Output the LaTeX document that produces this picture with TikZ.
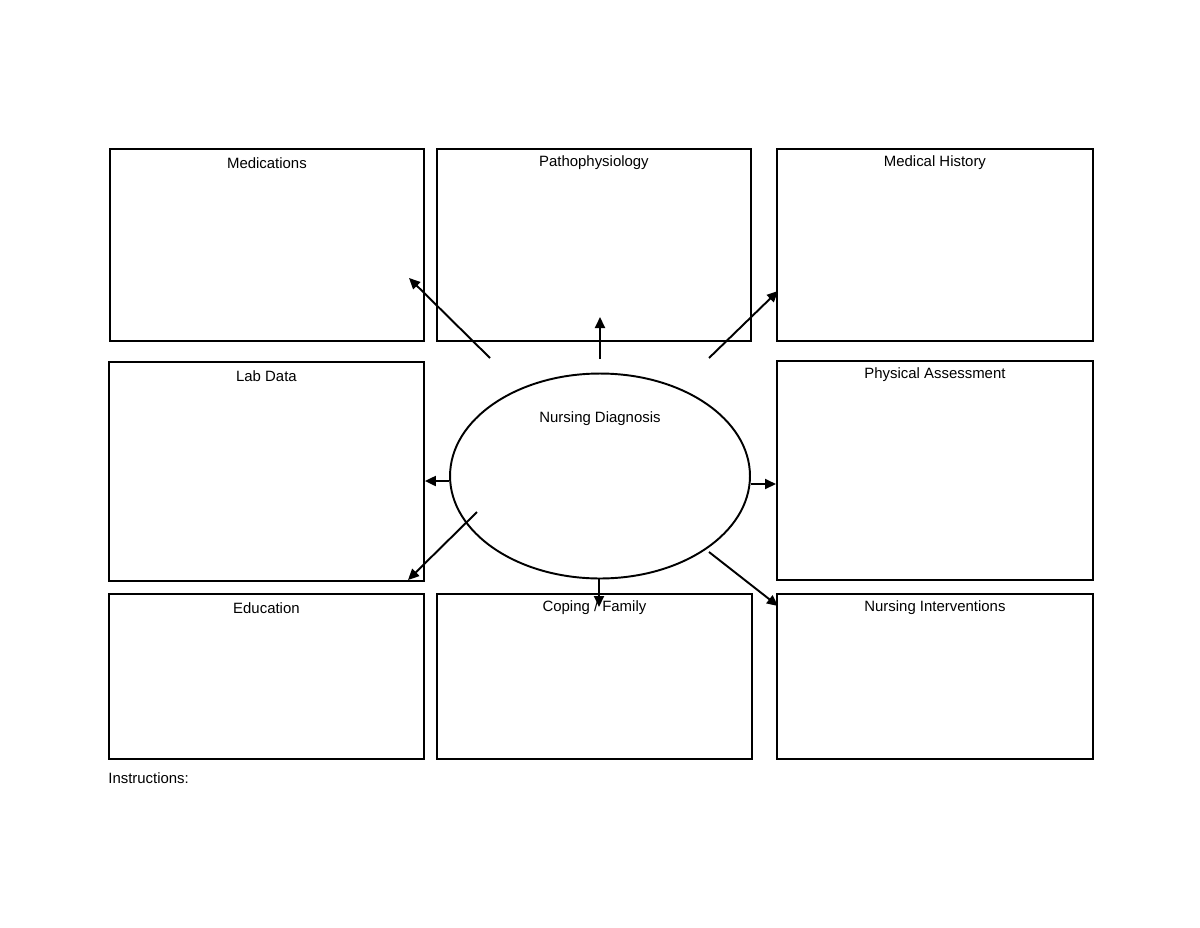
\documentclass[tikz,border=0pt]{standalone}
\usepackage{fontspec}
\setmainfont{Liberation Sans}
\usetikzlibrary{arrows.meta,positioning,shapes.geometric}

\begin{document}
\begin{tikzpicture}[
  x=0.02cm, y=-0.02cm,
  font=\fontsize{8.5}{10}\selectfont,
  box/.style={draw, line width=1.1pt, anchor=north west, inner sep=0pt},
  title/.style={anchor=center, yshift=-0.3cm},
  arrow/.style={-{Triangle[length=2.2mm,width=2mm]}, line width=1.1pt}
]
\useasboundingbox (0,0) rectangle (1200,927);
% top row
\node[box, minimum width=6.28cm, minimum height=3.84cm, label={[title]north:Medications}] (med) at (109,148) {};
\node[box, minimum width=6.28cm, minimum height=3.84cm, label={[title]north:Pathophysiology}] (patho) at (436,148) {};
\node[box, minimum width=6.32cm, minimum height=3.84cm, label={[title]north:Medical History}] (hist) at (776,148) {};
% middle row
\node[box, minimum width=6.30cm, minimum height=4.38cm, label={[title]north:Lab Data}] (lab) at (108,361) {};
\node[box, minimum width=6.32cm, minimum height=4.38cm, label={[title]north:Physical Assessment}] (phys) at (776,360) {};
\node[draw, ellipse, line width=1.1pt, minimum width=6cm, minimum height=4.1cm] (diag) at (600,476) {};
\node (diagtext) at (600,419) {Nursing Diagnosis};
% bottom row
\node[box, minimum width=6.30cm, minimum height=3.30cm, label={[title]north:Education}] (edu) at (108,593) {};
\node[box, minimum width=6.30cm, minimum height=3.30cm, label={[title]north:Coping / Family}] (coping) at (436,593) {};
\node[box, minimum width=6.32cm, minimum height=3.30cm, label={[title]north:Nursing Interventions}] (interv) at (776,593) {};
\node[anchor=west, inner sep=0pt] (instr) at (108,778) {Instructions:};
% arrow ends
\coordinate (a1) at (490,358);
\coordinate (t1) at (409,278);
\coordinate (a2) at (600,359);
\coordinate (t2) at (600,317);
\coordinate (a3) at (709,358);
\coordinate (t3) at (778,291);
\coordinate (a4) at (477,512);
\coordinate (t4) at (408,580);
\coordinate (t5) at (599,607);
\coordinate (a6) at (709,552);
\coordinate (t6) at (778,606);
\draw[arrow] (a1) -- (t1);
\draw[arrow] (a2) -- (t2);
\draw[arrow] (a3) -- (t3);
\draw[arrow] (diag.west |- 0,481) -- (lab.east |- 0,481);
\draw[arrow] (diag.east |- 0,484) -- (phys.west |- 0,484);
\draw[arrow] (a4) -- (t4);
\draw[arrow] (diag.south -| 599,0) -- (t5);
\draw[arrow] (a6) -- (t6);
\end{tikzpicture}
\end{document}
